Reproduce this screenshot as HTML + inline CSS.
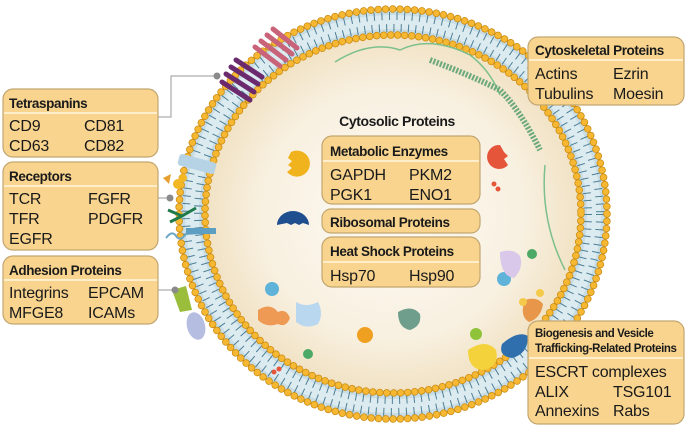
<!DOCTYPE html>
<html><head><meta charset="utf-8"><style>
html,body{margin:0;padding:0;background:#fff;}
svg{display:block;}
text{font-family:"Liberation Sans",Arial,sans-serif;fill:#1a1a1a;}
.h{font-weight:bold;font-size:13.5px;letter-spacing:-0.4px;}
.i{font-size:16px;letter-spacing:-0.2px;}
.box{fill:#f8d48e;stroke:#c2a670;stroke-width:1.2;}
.dv{stroke:#fff6e0;stroke-width:1.5;}
</style></head><body>
<svg width="685" height="427" viewBox="0 0 685 427" xmlns="http://www.w3.org/2000/svg">
<defs>
<radialGradient id="cy" cx="50%" cy="50%" r="50%">
<stop offset="0" stop-color="#fdfbf6"/><stop offset="0.7" stop-color="#f8f0e0"/><stop offset="1" stop-color="#f1e2c4"/>
</radialGradient>
<radialGradient id="mb" cx="50%" cy="50%" r="50%">
<stop offset="0.86" stop-color="#b9d3de"/><stop offset="0.93" stop-color="#e4eff3"/><stop offset="1" stop-color="#b9d3de"/>
</radialGradient>
</defs>
<!-- membrane -->
<ellipse cx="393" cy="214" rx="214" ry="205" fill="#c8dde6"/>
<ellipse cx="393" cy="214" rx="201" ry="192" fill="none" stroke="#dcebf0" stroke-width="14"/>
<ellipse cx="393" cy="214" rx="207" ry="198" fill="none" stroke="#4d7f96" stroke-width="8" stroke-dasharray="1 6.6"/>
<ellipse cx="393" cy="214" rx="195" ry="186" fill="none" stroke="#4d7f96" stroke-width="8" stroke-dasharray="1 6.3"/>
<ellipse cx="393" cy="214" rx="188" ry="179" fill="url(#cy)"/>
<ellipse cx="393" cy="214" rx="214" ry="205" fill="none" stroke="#c98a10" stroke-width="7.5" stroke-linecap="round" stroke-dasharray="0.01 7.3"/>
<ellipse cx="393" cy="214" rx="214" ry="205" fill="none" stroke="#f6b832" stroke-width="6" stroke-linecap="round" stroke-dasharray="0.01 7.3"/>
<ellipse cx="393" cy="214" rx="188" ry="179" fill="none" stroke="#c98a10" stroke-width="7.5" stroke-linecap="round" stroke-dasharray="0.01 7"/>
<ellipse cx="393" cy="214" rx="188" ry="179" fill="none" stroke="#f6b832" stroke-width="6" stroke-linecap="round" stroke-dasharray="0.01 7"/>

<!-- tetraspanins -->
<g stroke-width="5" stroke-linecap="round">
<line x1="222" y1="82" x2="250" y2="100" stroke="#6b2a6e"/>
<line x1="226" y1="74" x2="254" y2="92" stroke="#6b2a6e"/>
<line x1="231" y1="67" x2="258" y2="84" stroke="#6b2a6e"/>
<line x1="236" y1="60" x2="262" y2="77" stroke="#6b2a6e"/>
<line x1="255" y1="47" x2="280" y2="66" stroke="#c9637a"/>
<line x1="261" y1="41" x2="286" y2="60" stroke="#c9637a"/>
<line x1="267" y1="35" x2="292" y2="54" stroke="#c9637a"/>
<line x1="273" y1="29" x2="297" y2="48" stroke="#c9637a"/>
</g>
<!-- cytoskeleton -->
<path d="M335 62 Q370 40 400 50 Q430 35 470 55 Q490 70 500 95" fill="none" stroke="#7cc08c" stroke-width="1.5"/>
<path d="M430 60 Q470 75 500 90 Q520 110 540 150" fill="none" stroke="#6ba97a" stroke-width="6" stroke-dasharray="2 1.5"/>
<path d="M545 165 Q540 220 565 270" fill="none" stroke="#7cc08c" stroke-width="1.5"/>
<!-- receptors left -->
<rect x="178" y="158" width="38" height="12" rx="3" fill="#b6d3e6" transform="rotate(15 197 164)"/>
<polygon points="163,178 171,174 169,184" fill="#e8a030"/>
<circle cx="178" cy="184" r="5" fill="#f2b722"/><circle cx="183" cy="178" r="4" fill="#f2b722"/>
<path d="M168 210 L182 216 L196 208 M182 216 L170 222" stroke="#1f7a4a" stroke-width="3" fill="none"/>
<path d="M166 238 Q172 230 176 236 Q180 242 186 234 L212 232" stroke="#6aa8c4" stroke-width="2" fill="none"/>
<rect x="186" y="228" width="30" height="6" fill="#5d9fc2"/>
<path d="M172 290 L186 286 L192 310 L180 312 Z" fill="#9bbd3c"/>
<ellipse cx="196" cy="326" rx="9" ry="14" fill="#b5bde0" transform="rotate(-15 196 326)"/>

<!-- cytosolic blobs -->
<path d="M287 172 a13 13 0 1 0 4 -20 l-3 6 l4 3 l-4 4 l4 3 z" fill="#f0b31e"/>
<path d="M277 225 a16 14 0 0 1 32 0 l-6 -2 l-4 2 l-4 -2 l-4 2 l-4 -2 z" fill="#1f4f8f"/>
<path d="M500 145 a12 12 0 1 0 8 20 l-4 -6 l4 -3 l-4 -4 z" fill="#e5553a"/>
<circle cx="272" cy="289" r="7" fill="#5fb3d9"/>
<circle cx="504" cy="279" r="7" fill="#5fb3d9"/>
<circle cx="532" cy="254" r="5" fill="#4caa66"/>
<circle cx="308" cy="354" r="5" fill="#4caa66"/>
<circle cx="365" cy="437" r="0" fill="none"/>
<circle cx="365" cy="335" r="8" fill="#f0a020"/>
<circle cx="274" cy="372" r="2.5" fill="#e5553a"/><circle cx="279" cy="369" r="2.5" fill="#e5553a"/>
<circle cx="494" cy="184" r="2.5" fill="#e5553a"/><circle cx="498" cy="189" r="2.5" fill="#e5553a"/>
<path d="M258 310 q12 -8 20 2 q8 -4 12 6 q-4 10 -12 6 q-12 4 -20 -4 z" fill="#ee9a55"/>
<path d="M296 302 q10 6 22 0 q6 12 0 22 q-12 6 -22 -2 z" fill="#b9d7ef"/>
<path d="M398 312 q14 -8 22 2 q2 12 -10 16 q-12 -2 -12 -18 z" fill="#6f9e8c"/>
<path d="M500 252 q14 -4 20 4 q4 12 -6 22 q-14 -2 -14 -26 z" fill="#d9c8e9"/>
<circle cx="476" cy="334" r="6" fill="#8fc43a"/>
<path d="M468 350 q18 -12 28 0 q4 16 -12 20 q-16 0 -16 -20 z" fill="#f4d23c"/>
<path d="M502 344 q16 -14 26 -8 q0 18 -16 22 q-14 -2 -10 -14 z" fill="#2f6fae"/>
<path d="M525 300 q12 -4 18 4 q-2 14 -14 18 q-10 -6 -4 -22 z" fill="#e8964a"/>
<circle cx="523" cy="302" r="4" fill="#f5c94a"/><circle cx="540" cy="293" r="4" fill="#f5c94a"/>

<!-- connectors -->
<g stroke="#9a9a9a" stroke-width="1" fill="none">
<polyline points="158,117 171,117 171,76 216,76"/>
<line x1="158" y1="198" x2="170" y2="198"/>
<line x1="158" y1="290" x2="174" y2="290"/>
</g>
<circle cx="217" cy="76" r="3.5" fill="#8a8a8a"/>
<circle cx="170" cy="198" r="3.5" fill="#8a8a8a"/>
<circle cx="175" cy="290" r="3.5" fill="#8a8a8a"/>

<!-- left boxes -->
<rect class="box" x="3" y="89" width="155" height="68" rx="10"/>
<line class="dv" x1="4" y1="113" x2="157" y2="113"/>
<text class="h" x="9" y="108">Tetraspanins</text>
<text class="i" x="9" y="131">CD9</text><text class="i" x="84" y="131">CD81</text>
<text class="i" x="9" y="151">CD63</text><text class="i" x="84" y="151">CD82</text>

<rect class="box" x="3" y="162" width="155" height="88" rx="10"/>
<line class="dv" x1="4" y1="186" x2="157" y2="186"/>
<text class="h" x="9" y="181">Receptors</text>
<text class="i" x="9" y="204">TCR</text><text class="i" x="88" y="204">FGFR</text>
<text class="i" x="9" y="224">TFR</text><text class="i" x="88" y="224">PDGFR</text>
<text class="i" x="9" y="244">EGFR</text>

<rect class="box" x="3" y="256" width="155" height="68" rx="10"/>
<line class="dv" x1="4" y1="280" x2="157" y2="280"/>
<text class="h" x="9" y="275">Adhesion Proteins</text>
<text class="i" x="9" y="298">Integrins</text><text class="i" x="88" y="298">EPCAM</text>
<text class="i" x="9" y="318">MFGE8</text><text class="i" x="88" y="318">ICAMs</text>

<!-- right boxes -->
<rect class="box" x="528" y="37" width="156" height="68" rx="10"/>
<line class="dv" x1="529" y1="60" x2="683" y2="60"/>
<text class="h" x="535" y="55">Cytoskeletal Proteins</text>
<text class="i" x="535" y="79">Actins</text><text class="i" x="613" y="79">Ezrin</text>
<text class="i" x="535" y="99">Tubulins</text><text class="i" x="613" y="99">Moesin</text>

<rect class="box" x="528" y="321" width="156" height="103" rx="10"/>
<line class="dv" x1="529" y1="358" x2="683" y2="358"/>
<text class="h" x="535" y="337" style="font-size:11.5px">Biogenesis and Vesicle</text>
<text class="h" x="535" y="352" style="font-size:11.5px">Trafficking-Related Proteins</text>
<text class="i" x="535" y="377">ESCRT complexes</text>
<text class="i" x="535" y="397">ALIX</text><text class="i" x="613" y="397">TSG101</text>
<text class="i" x="535" y="416">Annexins</text><text class="i" x="613" y="416">Rabs</text>

<!-- center -->
<text class="h" x="397" y="126" text-anchor="middle" style="font-size:14px">Cytosolic Proteins</text>
<rect class="box" x="322" y="136" width="158" height="68" rx="10"/>
<line class="dv" x1="323" y1="161" x2="479" y2="161"/>
<text class="h" x="330" y="156">Metabolic Enzymes</text>
<text class="i" x="330" y="180">GAPDH</text><text class="i" x="409" y="180">PKM2</text>
<text class="i" x="330" y="200">PGK1</text><text class="i" x="409" y="200">ENO1</text>
<rect class="box" x="322" y="209" width="158" height="24" rx="9"/>
<text class="h" x="330" y="227">Ribosomal Proteins</text>
<rect class="box" x="322" y="237" width="158" height="50" rx="10"/>
<line class="dv" x1="323" y1="262" x2="479" y2="262"/>
<text class="h" x="330" y="256">Heat Shock Proteins</text>
<text class="i" x="330" y="281">Hsp70</text><text class="i" x="409" y="281">Hsp90</text>
</svg>
</body></html>
